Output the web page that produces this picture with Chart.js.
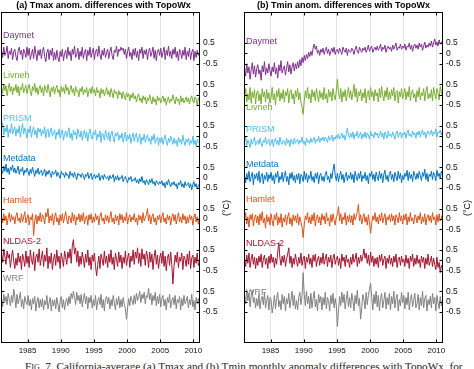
<!DOCTYPE html>
<html>
<head>
<meta charset="utf-8">
<script src="https://cdn.jsdelivr.net/npm/chart.js@4.4.1/dist/chart.umd.min.js"></script>
<style>
  html, body { margin: 0; padding: 0; background: #fff; }
  body { width: 474px; height: 369px; position: relative; overflow: hidden; }
  #chartA { position: absolute; left: 0; top: 0; }
  #chartB { position: absolute; left: 240px; top: 0; }
  #caption {
    position: absolute; left: 25px; top: 360px;
    font-family: "Liberation Serif", serif; font-size: 11.2px; color: #222;
    white-space: nowrap;
  }
</style>
</head>
<body>
<canvas id="chartA" width="240" height="360"></canvas>
<canvas id="chartB" width="234" height="360"></canvas>
<div id="caption">F<span style="font-variant: small-caps">ig</span>. 7. California-average (a) Tmax and (b) Tmin monthly anomaly differences with TopoWx, for</div>
<script>
// Bimonthly anomaly differences vs TopoWx (°C), 1981-2010
const startYear = 1981;
const stepsPerYear = 6;
const products = ['Daymet', 'Livneh', 'PRISM', 'Metdata', 'Hamlet', 'NLDAS-2', 'WRF'];
const offsets = [0, -2, -4, -6, -8, -10, -12];
const xTicks = [1985, 1990, 1995, 2000, 2005, 2010];
const yTickSteps = [0.5, 0, -0.5];

// (a) Tmax, one row = two years
const tmaxDaymet = [
  .15,-.2,.3,-.1,.05,.35,-.25,.1,-.05,.25,-.3,.1,
  .2,-.15,-.35,.1,.3,-.05,.15,-.3,.2,.05,-.2,.3,
  -.1,.25,-.3,-.05,.2,-.25,.35,0,-.35,.15,-.1,.2,
  -.25,.1,.3,-.15,-.4,.05,.2,-.3,.15,-.1,.25,-.35,
  .05,-.3,.15,-.2,-.4,.1,-.15,.2,-.35,0,.15,-.25,
  .3,-.1,.1,-.35,.2,-.05,.35,-.2,-.05,.25,-.3,.1,
  -.15,.3,-.25,.05,.2,-.35,.15,-.1,.3,-.2,.05,.25,
  -.3,.1,.2,-.15,.35,-.05,-.3,.15,-.1,.25,-.2,.05,
  .2,-.25,.1,.3,-.1,-.3,.15,.05,.35,-.15,.2,.1,
  .3,.15,.25,-.05,.2,-.25,.1,.3,-.15,.05,-.3,.2,
  -.1,.25,-.2,.1,-.35,.2,0,.3,-.25,.15,-.05,.2,
  -.3,.1,.25,-.15,.05,.3,-.25,.15,-.35,.1,.2,-.1,
  .25,-.2,.05,.3,-.3,.15,-.1,.35,-.15,.1,-.25,.2,
  -.05,.3,-.2,.1,-.35,.2,.05,-.25,.15,-.1,.3,-.3,
  .1,-.15,.25,-.3,.05,.2,-.35,.1,-.2,.15,-.1,.05
];
const tmaxLivneh = [
  .35,.05,.5,.2,.45,-.05,.3,.55,.15,.4,0,.35,
  .2,.5,.1,.4,-.05,.35,.25,.55,.1,.3,.45,.05,
  .3,.5,.15,-.05,.4,.2,.55,.1,.35,0,.3,.45,
  .1,.35,-.05,.45,.25,.1,.5,.2,-.1,.35,.15,.4,
  .05,.3,.45,.1,.25,-.1,.4,.15,.35,.05,.5,.2,
  .35,0,.25,.45,.1,.3,-.05,.4,.15,.2,-.1,.3,
  .15,.4,0,.25,.1,.35,-.1,.2,.3,.05,.4,.1,
  .25,-.05,.35,.1,.2,-.15,.3,.05,.25,-.05,.15,.35,
  0,.2,-.1,.3,.1,-.15,.25,.05,.15,-.2,.2,0,
  .1,-.2,.15,-.05,-.25,.1,-.1,.05,-.3,0,-.15,.1,
  -.2,-.05,-.35,-.1,.05,-.3,-.15,-.4,-.05,-.25,-.1,-.45,
  -.15,-.3,0,-.25,-.45,-.1,-.35,-.2,-.5,-.05,-.3,-.15,
  -.4,-.2,-.05,-.35,-.15,-.5,-.25,-.1,-.4,-.2,-.3,0,
  -.25,-.45,-.1,-.3,-.2,-.5,-.05,-.35,-.15,-.4,-.25,-.1,
  -.35,-.15,-.45,-.2,-.05,-.3,-.4,-.1,-.25,-.5,-.15,-.3
];
const tmaxPrism = [
  .3,.65,.05,.4,.2,.55,-.05,.35,.15,.6,.1,.3,
  .45,0,.35,.15,.5,-.05,.3,.6,.1,.4,.2,-.1,
  .35,.15,.5,-.05,.25,.45,.05,.3,-.1,.4,.2,.35,
  0,.3,.1,.45,-.1,.25,.35,-.05,.2,.4,0,.15,
  .3,-.15,.2,.05,.35,-.1,.15,.3,-.2,.1,.25,-.05,
  .2,.4,-.1,.15,-.2,.3,.05,.2,-.15,.35,.1,-.05,
  .25,-.2,.1,.3,-.1,.2,-.25,.15,.35,0,-.15,.2,
  .05,.3,-.2,.1,-.05,.25,-.3,.15,.05,-.2,.3,0,
  -.15,.2,-.25,.1,.25,-.1,-.3,.15,0,.2,-.2,.05,
  -.1,.15,-.3,-.05,.2,-.25,.05,-.15,.1,-.35,-.05,.15,
  -.25,0,.15,-.3,-.1,.1,-.4,-.05,-.2,.1,-.3,-.1,
  .05,-.25,-.1,-.4,0,-.2,.1,-.35,-.15,-.05,-.45,-.1,
  -.3,-.05,-.4,-.15,.05,-.25,-.45,-.1,-.3,0,-.2,-.4,
  -.1,-.35,-.2,-.5,-.05,-.3,-.15,-.4,.05,-.25,-.45,-.15,
  -.3,-.1,-.45,-.2,-.35,0,-.4,-.2,-.5,-.15,-.3,-.25
];
const tmaxMetdata = [
  .4,.2,.55,.3,.65,.25,.45,.15,.5,.35,.6,.25,
  .45,.2,.35,.55,.15,.4,.3,.5,.1,.35,.25,.45,
  .3,.1,.4,.2,.5,.25,.05,.35,.2,.45,.15,.3,
  .35,.1,.25,.4,.05,.3,.15,.35,.2,0,.3,.15,
  .2,.35,.05,.25,.1,-.05,.3,.15,.2,0,.25,.1,
  .15,-.05,.3,.1,.2,0,.25,.05,-.1,.2,.1,.15,
  0,.2,.1,-.1,.15,.05,.25,-.05,.1,.2,-.1,.05,
  .15,-.05,.1,0,.2,-.15,.05,.1,-.1,.15,0,-.05,
  .05,-.15,.1,-.05,0,.15,-.2,.05,-.1,.1,-.15,0,
  -.05,.1,-.2,-.05,.05,-.15,-.25,0,-.1,.05,-.2,-.1,
  -.15,0,-.25,-.1,-.3,-.05,-.2,.05,-.25,-.15,-.35,-.1,
  -.2,-.35,-.1,-.25,-.05,-.3,-.2,-.4,-.15,-.25,-.35,-.2,
  -.3,-.15,-.4,-.25,-.5,-.2,-.35,-.1,-.3,-.45,-.25,-.35,
  -.2,-.4,-.3,-.55,-.25,-.35,-.15,-.45,-.3,-.5,-.2,-.4,
  -.35,-.25,-.5,-.3,-.6,-.35,-.2,-.45,-.3,-.55,-.4,-.3
];
const tmaxHamlet = [
  .1,-.2,.25,-.1,.15,-.3,.05,.3,-.15,.2,-.05,.1,
  -.25,.15,.3,-.1,.05,-.2,.25,-.15,.1,.35,-.2,.05,
  .2,-.3,.1,-.05,.25,-.8,-.1,.2,-.25,.15,-.1,.3,
  -.15,.2,.05,-.25,.3,.1,.5,-.2,.15,-.1,.25,-.3,
  .1,.3,-.15,.05,-.3,.2,-.1,.25,-.2,.1,.35,-.05,
  -.25,.15,.05,-.2,.3,-.1,.2,-.3,.1,-.05,.25,-.15,
  .2,-.1,.3,-.25,.05,.15,-.3,.2,-.05,.25,-.2,.1,
  -.15,.25,-.05,.15,-.3,.1,.3,-.1,.05,-.25,.2,-.1,
  .15,-.2,.1,.35,-.15,.05,-.25,.2,-.1,.15,-.3,.25,
  -.05,.2,-.2,.1,-.1,.3,-.25,.05,.2,-.15,.1,-.05,
  .25,-.15,.05,-.3,.2,-.05,.15,-.2,.3,-.1,.05,.2,
  .5,-.1,.2,-.25,.1,.25,-.15,.05,-.3,.15,-.05,.2,
  -.2,.1,.3,-.15,.05,-.25,.2,-.05,.15,-.3,.1,.25,
  -.1,.2,-.25,.05,.3,-.15,.1,-.2,.25,-.05,.15,-.25,
  .1,-.2,.2,-.05,.15,-.3,.05,.25,-.15,.1,-.25,0
];
const tmaxNldas = [
  .35,-.1,.55,.2,-.2,.45,.1,.3,-.35,.15,.5,-.05,
  -.4,.1,-.25,.35,-.1,.2,-.45,.3,.05,-.3,.45,-.15,
  .2,-.35,.5,.05,-.2,.4,-.5,.15,.3,-.1,.55,-.25,
  .1,.45,-.3,.25,-.05,.6,-.4,.2,-.15,.35,-.45,.05,
  .3,-.25,.5,-.1,.2,-.4,.35,.05,-.3,.45,.15,-.2,
  .4,.1,.55,-.15,.7,1.0,.3,.6,-.1,.45,-.3,.2,
  -.2,.4,.05,-.35,.3,-.1,.5,-.25,.15,-.45,.25,-.05,
  .35,-.3,-.75,-.2,.2,-.4,.3,.05,-.25,.45,-.15,.2,
  -.35,.3,-.1,.5,-.2,.15,-.45,.35,.05,-.3,.4,-.1,
  .25,-.4,.15,-.15,.45,-.25,.1,.35,-.35,.2,-.05,.5,
  -.2,.4,.1,.6,-.15,.35,-.3,.55,.05,.3,-.25,.45,
  .2,-.35,.4,-.1,.3,-.45,.15,.5,-.2,.25,-.4,.1,
  .35,-.15,.45,-.3,.2,-.5,.1,.3,-.25,.4,-.2,-1.15,
  -.3,.25,-.1,.4,-.35,.15,-.05,.35,-.45,.2,.05,-.3,
  .3,-.2,.45,-.4,.1,.25,-.35,.15,-.15,.35,-.25,-.1
];
const tmaxWrf = [
  .15,-.25,.35,0,.25,-.15,.4,.1,-.2,.3,-.05,.6,
  .2,-.3,.35,-.1,.15,.45,-.25,.1,-.35,.25,0,-.15,
  .3,-.2,.1,-.4,.15,-.1,.25,-.45,0,.2,-.3,.1,
  -.25,.15,-.4,.05,-.15,.3,-.35,-.05,.2,-.45,.1,-.2,
  .1,-.35,.2,-.15,-.5,.05,.25,-.3,.1,-.4,0,.15,
  -.2,.25,-.1,.4,.15,.5,.2,-.15,.45,.05,.3,-.1,
  .35,-.25,.15,.4,-.1,.25,-.35,.2,-.05,.3,-.3,.1,
  -.2,.3,-.4,.05,.2,-.15,.35,-.3,.1,-.45,.15,.25,
  -.1,.2,-.35,.1,-.2,.3,-.05,-.4,.15,-.15,.25,-.3,
  .1,-.25,.2,-.1,-.35,-.85,-.3,.15,-.2,.25,.05,-.15,
  .3,-.1,.4,.05,.25,.5,-.05,.35,.15,.45,-.1,.3,
  .2,.65,.1,.4,-.15,.3,.05,.45,-.2,.25,-.1,.35,
  -.25,.15,.3,-.2,.1,-.4,.2,-.05,.35,-.3,.05,.2,
  -.15,.3,-.35,.1,-.05,.25,-.4,.15,-.2,.3,-.1,.05,
  .25,-.3,.1,-.15,.35,-.25,.05,-.4,.2,-.1,.15,-.2
];

// (b) Tmin, one row = two years
const tminDaymet = [
  -.7,-1.1,-.5,-.95,-.65,-1.25,-.8,-.45,-1.0,-.6,-1.15,-.75,
  -.55,-1.0,-.8,-1.3,-.6,-.9,-.4,-1.05,-.7,-.95,-.5,-.85,
  -1.1,-.65,-.9,-.45,-1.0,-.7,-1.2,-.55,-.85,-.35,-.95,-.75,
  -.6,-1.05,-.7,-.4,-.9,-.55,-1.0,-.65,-.45,-.85,-.5,-.75,
  -.4,-.7,-.3,-.6,-.2,-.45,-.1,-.35,-.05,-.25,.05,-.15,
  .1,-.1,.25,.45,.2,.35,0,.15,-.1,.2,.05,.25,
  -.05,.15,.3,0,.2,-.1,.1,.25,.05,.3,-.05,.15,
  .2,0,.25,.1,-.05,.3,.15,.05,.25,-.1,.2,.1,
  .05,.25,.15,-.05,.2,.35,.1,0,.3,.15,.05,.25,
  .15,.3,.05,.2,.4,.1,.25,.35,.05,.2,.3,.15,
  .35,.15,.25,.45,.1,.3,.2,.4,.05,.25,.35,.2,
  .3,.1,.4,.2,.35,.5,.15,.3,.25,.45,.2,.35,
  .25,.45,.15,.35,.3,.5,.2,.4,.1,.35,.45,.25,
  .4,.2,.5,.3,.45,.15,.35,.55,.25,.4,.3,.5,
  .35,.6,.3,.5,.7,.4,.55,.35,.65,.45,.5,.6
];
const tminLivneh = [
  -.1,.3,-.35,.05,-.25,.35,-.4,.15,-.15,.25,-.45,.1,
  .2,-.3,.05,-.45,.3,-.1,.15,-.35,.25,-.2,.1,-.4,
  -.15,.35,-.25,.05,-.5,.2,-.1,.3,-.3,.1,-.2,.25,
  -.35,.15,-.05,.3,-.4,.1,.25,-.2,.05,-.45,.2,-.1,
  .3,-.25,.1,-.35,-.6,-.95,-.3,.2,-.15,.35,-.2,.05,
  -.4,.25,-.1,.15,-.3,.3,-.05,-.35,.2,-.15,.1,-.25,
  .35,-.2,.05,-.4,.25,-.1,.15,-.3,.3,-.05,-.25,.2,
  .75,.1,-.2,.3,-.35,.15,-.1,.25,-.3,.05,.35,-.15,
  .2,-.25,.1,.5,-.1,.3,-.35,.15,-.05,.25,-.3,.1,
  -.15,.3,-.4,.05,.2,-.25,.35,-.1,.15,-.3,.25,-.05,
  .1,-.35,.3,-.15,.4,-.05,-.3,.2,-.1,.35,-.25,.15,
  -.2,.25,-.05,.35,-.3,.1,.2,-.4,.15,-.1,.3,-.2,
  .05,.3,-.25,.15,-.1,.4,-.3,.1,.25,-.15,.05,-.35,
  .2,-.1,.35,-.25,.1,-.05,.3,-.3,.15,.4,-.2,.05,
  -.15,.25,-.3,.35,.05,-.2,.3,.1,-.25,.4,.15,-.05
];
const tminPrism = [
  -.3,-.05,-.45,-.2,-.35,-.55,-.15,-.4,-.25,-.05,-.45,-.3,
  -.2,-.4,-.1,-.35,-.5,-.2,-.3,-.05,-.4,-.25,-.15,-.45,
  -.35,-.15,-.5,-.25,-.1,-.4,-.2,-.45,-.05,-.3,-.4,-.2,
  -.25,-.45,-.1,-.35,-.2,-.5,-.15,-.3,-.4,-.1,-.35,-.25,
  -.15,-.4,-.2,-.3,-.05,-.35,-.25,-.45,-.1,-.3,-.2,-.35,
  -.1,-.3,-.2,-.05,-.35,-.15,-.25,0,-.3,-.1,-.2,-.05,
  -.25,-.05,-.15,-.3,0,-.2,-.1,.05,-.25,-.05,-.15,.05,
  -.1,.1,-.15,0,.15,-.1,.05,-.2,.1,.4,.05,-.1,
  .15,-.05,.2,-.15,.1,0,.25,-.1,.05,.2,-.15,.1,
  -.05,.2,-.1,.15,.05,-.15,.25,0,.1,-.1,.2,.05,
  .15,-.1,.05,.25,-.05,.15,-.15,.2,.05,-.1,.25,0,
  .1,-.05,.2,.05,-.15,.15,.25,-.05,.1,.2,-.1,.15,
  .05,.2,-.1,.15,.3,0,.1,-.05,.25,.05,.15,-.1,
  .2,.05,.25,-.05,.15,.3,.05,.2,-.1,.15,.25,.05,
  .1,.3,0,.2,.1,.35,-.05,.2,.15,.3,.05,.25
];
const tminMetdata = [
  .1,-.25,.2,-.1,.3,-.2,.05,.25,-.35,.15,-.05,.2,
  -.15,.3,-.25,.05,.2,-.3,.1,-.1,.25,-.2,.15,-.05,
  .25,-.15,.1,-.3,.2,0,.3,-.25,.05,-.1,.25,-.2,
  .1,.3,-.2,.05,-.35,.2,-.05,.25,-.15,.1,-.25,.15,
  -.1,.2,-.3,.15,.05,-.2,.3,-.1,.2,-.25,.1,-.05,
  .3,-.15,.05,-.25,.2,-.05,.25,-.3,.1,.2,-.15,.05,
  -.2,.15,.3,-.1,.05,-.25,.2,-.05,.35,.65,.1,-.15,
  .2,-.2,.1,.3,-.1,.15,-.25,.05,.25,-.15,.1,-.05,
  .25,-.1,.15,-.25,.3,.05,-.15,.2,-.05,.3,-.2,.1,
  -.05,.25,-.15,.1,-.3,.2,.05,.3,-.1,.15,-.2,.25,
  .05,-.15,.3,-.05,.2,-.25,.15,.35,-.1,.1,-.2,.2,
  .3,-.1,.15,-.2,.25,.05,-.15,.3,-.05,.2,-.25,.1,
  -.1,.2,.05,.35,-.15,.25,-.05,.15,-.2,.3,.1,-.1,
  .2,-.05,.3,.1,-.15,.25,.05,.4,-.1,.2,-.2,.15,
  .05,.3,-.1,.25,.1,-.15,.35,.05,.2,-.05,.3,.1
];
const tminHamlet = [
  -.1,.3,-.25,.1,-.4,.2,-.05,.25,-.35,.05,.2,-.2,
  .15,-.3,.25,-.1,.35,-.2,.05,-.45,.2,-.15,.1,-.3,
  .25,-.1,-.35,.2,-.05,.3,-.3,.1,-.2,.25,-.4,.05,
  -.15,.2,-.3,.1,.3,-.25,.05,-.35,.2,-.1,.15,-.2,
  .25,-.3,.1,-.15,-.4,-.9,-.3,.15,-.05,.3,-.2,.1,
  -.25,.2,-.1,.3,-.35,.05,.2,-.2,.1,-.3,.25,-.05,
  .15,-.25,.3,-.1,.05,-.35,.2,-.15,.25,-.05,-.3,.1,
  .2,.6,-.1,.25,-.25,.1,-.05,.3,-.3,.15,-.15,.2,
  -.2,.15,-.3,.25,-.05,.1,.35,.7,-.1,.2,-.25,.05,
  .25,-.15,.1,-.3,.2,-.2,-.7,-.25,.15,-.05,.3,-.15,
  .1,-.25,.2,-.1,.3,-.2,.05,.25,-.3,.1,-.05,.2,
  -.15,.25,-.1,.15,-.3,.2,.05,-.2,.3,-.1,.15,-.25,
  .2,-.05,.25,-.3,.1,-.15,.3,-.1,.05,-.25,.2,.1,
  -.2,.15,-.05,.3,-.25,.1,-.15,.25,-.3,.05,.2,-.1,
  .15,-.2,.3,-.05,.1,-.3,.2,-.15,.25,-.1,.05,.2
];
const tminNldas = [
  .1,-.3,.25,-.15,.35,-.35,.05,.3,-.2,.15,-.4,.1,
  -.25,.2,-.1,.3,-.35,.05,.25,-.2,.1,-.4,.2,-.15,
  .3,-.1,.15,-.35,.1,-.2,.4,.85,.1,-.25,.2,-.1,
  .25,-.3,.05,.3,.6,-.15,.2,-.35,.1,-.2,.3,-.05,
  -.3,.15,-.15,.35,-.25,.05,.2,-.4,.15,-.1,.3,-.2,
  .1,-.35,.25,-.05,.3,-.3,.05,.2,-.25,.15,-.15,.35,
  -.2,.05,.3,-.3,.15,-.1,.25,-.35,.1,.3,-.2,.05,
  .2,-.25,.1,-.4,.3,-.05,.15,-.3,.25,-.1,.05,-.35,
  .15,-.2,.3,-.1,.05,.35,-.3,.15,-.15,.25,-.05,.2,
  .55,.1,.35,-.15,.25,-.25,.4,-.1,.2,-.3,.1,-.2,
  .15,-.35,.25,-.05,.3,-.25,.05,.2,-.4,.1,-.15,.25,
  -.2,.1,-.3,.2,-.1,.3,-.35,.05,.15,-.25,.2,-.1,
  .05,-.3,.25,-.15,.1,-.4,.2,-.05,.3,-.3,.1,-.2,
  .25,-.15,.05,-.35,.2,-.1,.15,-.4,.1,-.2,.3,-.25,
  -.05,.2,-.3,.1,-.2,-.45,.15,-.35,-.1,-.6,-.25,-.4
];
const tminWrf = [
  .35,-.1,.5,.05,.4,-.25,.3,.55,-.05,.2,-.3,.15,
  -.2,.35,-.35,.1,.25,-.15,.45,-.3,.05,.3,-.4,.2,
  .1,-.55,-.2,.3,-.35,.15,.45,-.25,.05,-.4,.35,-.1,
  .25,-.45,.15,-.1,.4,-.3,.1,.5,-.2,.3,-.35,.05,
  -.4,.2,.45,-.15,.3,1.4,.35,-.2,.5,-.1,.25,-.35,
  .4,-.3,.15,.5,-.25,.1,-.45,.35,-.05,.25,-.4,.2,
  -.15,.45,-.35,.2,.05,-.45,.3,-.1,.4,-.3,.15,-.2,
  -1.2,-.4,.25,-.2,.45,-.05,.35,-.35,.1,.5,-.25,.2,
  -.3,.4,.05,-.45,.3,-.1,.55,-.2,.15,-.85,-.3,.35,
  .1,-.35,.45,-.15,.3,.6,.9,.2,-.4,.35,-.1,.5,
  -.25,.3,-.45,.15,.4,-.3,.05,.45,-.35,.2,-.15,.4,
  -.4,.25,-.1,.5,-.3,.15,.35,-.45,.1,-.2,.45,-.05,
  .3,-.35,.2,-.15,.45,-.4,.1,.35,-.25,.05,.4,-.3,
  -.1,.35,-.4,.2,-.2,.5,-.3,.15,.3,-.45,.1,-.15,
  .25,-.3,.4,-.1,.2,-.45,.3,-.05,-.35,.25,-.2,.1
];

const tmaxSeries = [tmaxDaymet, tmaxLivneh, tmaxPrism, tmaxMetdata, tmaxHamlet, tmaxNldas, tmaxWrf];
const tminSeries = [tminDaymet, tminLivneh, tminPrism, tminMetdata, tminHamlet, tminNldas, tminWrf];

// MATLAB-ish default line colours
const colors = ['#7E2F8E', '#77AC30', '#4DBEEE', '#0072BD', '#D95319', '#A2142F', '#808080'];
// where each product name sits, in °C above its own zero line
const labelLiftA = [0.88, 0.95, 0.87, 0.9, 0.87, 0.89, 1.1];
const labelLiftB = [0.56, -0.64, 0.3, 0.61, 0.92, 0.81, 0.44];

const FONT = '"Liberation Sans", Arial, sans-serif';

// Frame, inward ticks, panel title, product names and unit label
const decorPlugin = {
  id: 'decor',
  afterDraw(chart, args, opts) {
    const ctx = chart.ctx;
    const a = chart.chartArea;
    const xs = chart.scales.x;
    const ys = chart.scales.y;
    ctx.save();

    ctx.strokeStyle = '#000';
    ctx.lineWidth = 1;
    const L = Math.round(a.left) + 0.5, R = Math.round(a.right) - 0.5;
    const T = Math.round(a.top) + 0.5, B = Math.round(a.bottom) - 0.5;
    ctx.strokeRect(L, T, R - L, B - T);

    ctx.beginPath();
    ys.ticks.forEach(t => {
      const py = Math.round(ys.getPixelForValue(t.value)) + 0.5;
      ctx.moveTo(L, py); ctx.lineTo(L + 3, py);
      ctx.moveTo(R, py); ctx.lineTo(R - 3, py);
    });
    xs.ticks.forEach(t => {
      const px = Math.round(xs.getPixelForValue(t.value)) + 0.5;
      ctx.moveTo(px, T); ctx.lineTo(px, T + 3);
      ctx.moveTo(px, B); ctx.lineTo(px, B - 3);
    });
    ctx.stroke();

    // title
    ctx.fillStyle = '#000';
    ctx.font = 'bold 9px ' + FONT;
    ctx.textAlign = 'center';
    ctx.textBaseline = 'middle';
    ctx.fillText(opts.title, (a.left + a.right) / 2 + opts.titleShift, 6);

    // product names
    ctx.font = '9px ' + FONT;
    ctx.textAlign = 'left';
    products.forEach((name, k) => {
      ctx.fillStyle = colors[k];
      ctx.fillText(name, a.left + 2, ys.getPixelForValue(offsets[k] + opts.labelLift[k]));
    });

    // unit
    ctx.fillStyle = '#000';
    ctx.font = '9px ' + FONT;
    ctx.translate(opts.unitX, 208);
    ctx.rotate(-Math.PI / 2);
    ctx.textAlign = 'center';
    ctx.fillText('(°C)', 0, 0);
    ctx.restore();
  }
};

function buildDatasets(series) {
  return series.map((values, k) => ({
    label: products[k],
    data: values.map((v, i) => ({ x: startYear + (i + 0.5) / stepsPerYear, y: v + offsets[k] })),
    borderColor: colors[k],
    borderWidth: 1,
    pointRadius: 0,
    tension: 0
  }));
}

function makePanel(canvasId, series, opts) {
  const ctx = document.getElementById(canvasId).getContext('2d');
  return new Chart(ctx, {
    type: 'line',
    data: { datasets: buildDatasets(series) },
    options: {
      responsive: false,
      animation: false,
      devicePixelRatio: 1,
      layout: { padding: { left: opts.padLeft, top: 12, right: 0, bottom: 0 } },
      plugins: {
        legend: { display: false },
        tooltip: { enabled: false },
        decor: opts
      },
      scales: {
        x: {
          type: 'linear',
          min: 1981,
          max: 2011,
          afterBuildTicks: s => { s.ticks = xTicks.map(v => ({ value: v })); },
          afterFit: s => { s.height = 17; },
          grid: { color: '#e3e3e3', lineWidth: 1, drawTicks: false },
          border: { display: false },
          ticks: {
            padding: 3,
            color: '#111',
            font: { family: FONT, size: 8 },
            maxRotation: 0,
            autoSkip: false,
            callback: v => String(v)
          }
        },
        y: {
          type: 'linear',
          position: 'right',
          min: -14,
          max: 2,
          afterBuildTicks: s => {
            const t = [];
            offsets.forEach(o => yTickSteps.forEach(d => t.push({ value: o + d })));
            s.ticks = t;
          },
          afterFit: s => { s.width = opts.axisWidth; },
          grid: { display: false, drawTicks: false },
          border: { display: false },
          ticks: {
            padding: 3,
            color: '#111',
            autoSkip: false,
            font: { family: FONT, size: 8.5 },
            callback: v => {
              const rel = Math.round((v - Math.round(v / 2) * 2) * 10) / 10;
              return rel === 0 ? '0' : String(rel);
            }
          }
        }
      }
    },
    plugins: [decorPlugin]
  });
}

makePanel('chartA', tmaxSeries, {
  title: '(a) Tmax anom. differences with TopoWx',
  titleShift: 3,
  labelLift: labelLiftA,
  unitX: 227,
  padLeft: 1,
  axisWidth: 40
});

makePanel('chartB', tminSeries, {
  title: '(b) Tmin anom. differences with TopoWx',
  titleShift: 0,
  labelLift: labelLiftB,
  unitX: 228,
  padLeft: 4,
  axisWidth: 31
});
</script>
</body>
</html>
